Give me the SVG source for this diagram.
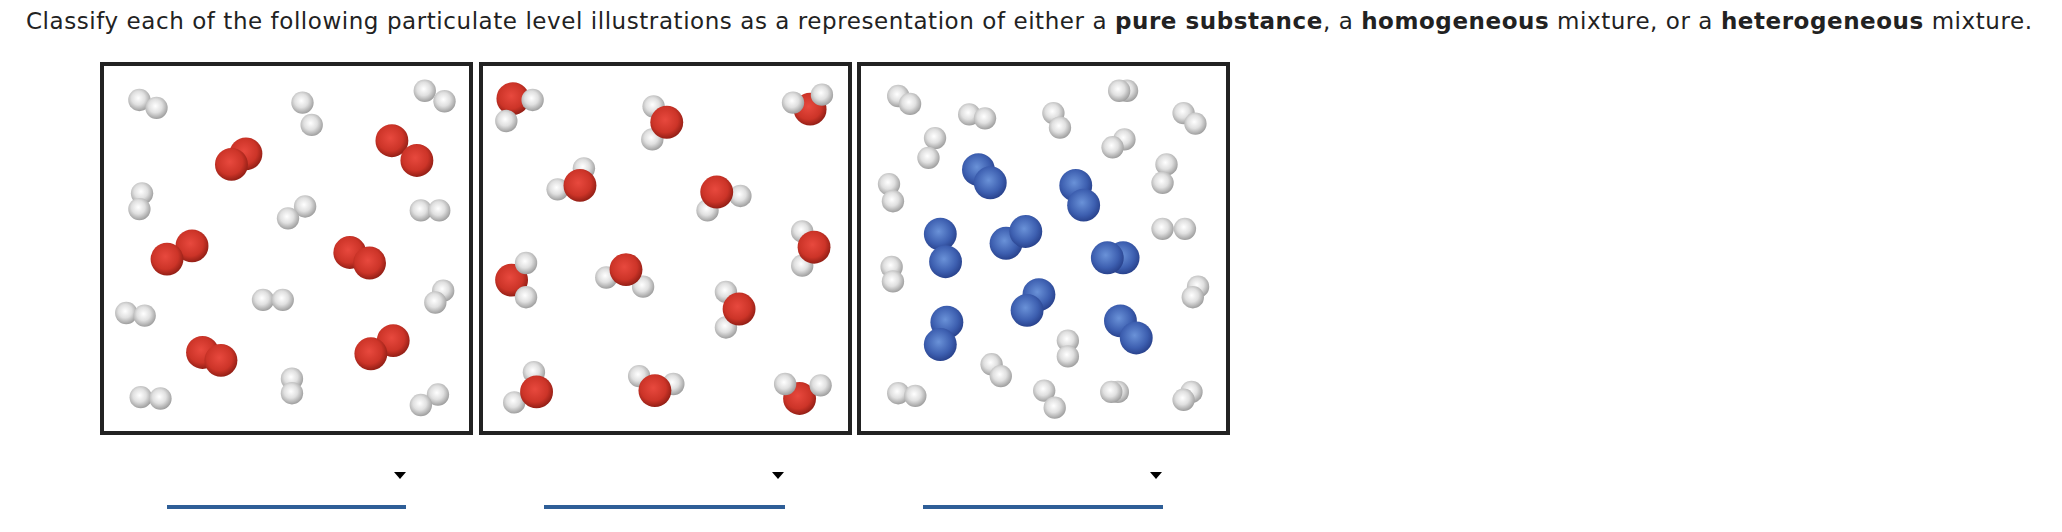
<svg xmlns="http://www.w3.org/2000/svg" width="2062" height="532" viewBox="0 0 2062 532">
<defs>
<radialGradient id="gw" cx="0.45" cy="0.42" r="0.6"><stop offset="0" stop-color="#ffffff"/><stop offset="0.5" stop-color="#e0e0e0"/><stop offset="1" stop-color="#9a9a9a"/></radialGradient>
<radialGradient id="gr" cx="0.45" cy="0.42" r="0.6"><stop offset="0" stop-color="#e8493e"/><stop offset="0.65" stop-color="#cc3428"/><stop offset="1" stop-color="#8e1d14"/></radialGradient>
<radialGradient id="gb" cx="0.45" cy="0.42" r="0.6"><stop offset="0" stop-color="#6a92d8"/><stop offset="0.65" stop-color="#3d5fb0"/><stop offset="1" stop-color="#27408a"/></radialGradient>
</defs>
<style>
.t{font-family:"DejaVu Sans",Verdana,sans-serif;font-size:23px;fill:#222}
.b{font-weight:bold}
.f{fill:#fff;stroke:#222;stroke-width:4}
.h{fill:url(#gw)}
.o{fill:url(#gr)}
.n{fill:url(#gb)}
.line{stroke:#2e5e97;stroke-width:4}
.tri{fill:#000}
</style>
<text class="t" x="26" y="29" textLength="2006" lengthAdjust="spacing">Classify each of the following particulate level illustrations as a representation of either a <tspan class="b">pure substance</tspan>, a <tspan class="b">homogeneous</tspan> mixture, or a <tspan class="b">heterogeneous</tspan> mixture.</text>
<g id="panel1"><rect class="f" x="102" y="64" width="369" height="369"/></g>
<g id="panel2"><rect class="f" x="481" y="64" width="369" height="369"/></g>
<g id="panel3"><rect class="f" x="859" y="64" width="369" height="369"/></g>
<g id="molecules" transform="scale(1.3151)">
<g id="p1">
<circle class="h" cx="106" cy="76" r="8.5"/><circle class="h" cx="119" cy="82" r="8.5"/>
<circle class="h" cx="230" cy="78" r="8.5"/><circle class="h" cx="237" cy="95" r="8.5"/>
<circle class="h" cx="323" cy="69" r="8.5"/><circle class="h" cx="338" cy="77" r="8.5"/>
<circle class="h" cx="108" cy="147" r="8.5"/><circle class="h" cx="106" cy="159" r="8.5"/>
<circle class="h" cx="232" cy="157" r="8.5"/><circle class="h" cx="219" cy="166" r="8.5"/>
<circle class="h" cx="320" cy="160" r="8.5"/><circle class="h" cx="334" cy="160" r="8.5"/>
<circle class="h" cx="96" cy="238" r="8.5"/><circle class="h" cx="110" cy="240" r="8.5"/>
<circle class="h" cx="200" cy="228" r="8.5"/><circle class="h" cx="215" cy="228" r="8.5"/>
<circle class="h" cx="337" cy="221" r="8.5"/><circle class="h" cx="331" cy="230" r="8.5"/>
<circle class="h" cx="107" cy="302" r="8.5"/><circle class="h" cx="122" cy="303" r="8.5"/>
<circle class="h" cx="222" cy="288" r="8.5"/><circle class="h" cx="222" cy="299" r="8.5"/>
<circle class="h" cx="333" cy="300" r="8.5"/><circle class="h" cx="320" cy="308" r="8.5"/>
<circle class="o" cx="187" cy="117" r="12.5"/><circle class="o" cx="176" cy="125" r="12.5"/>
<circle class="o" cx="298" cy="107" r="12.5"/><circle class="o" cx="317" cy="122" r="12.5"/>
<circle class="o" cx="146" cy="187" r="12.5"/><circle class="o" cx="127" cy="197" r="12.5"/>
<circle class="o" cx="266" cy="192" r="12.5"/><circle class="o" cx="281" cy="200" r="12.5"/>
<circle class="o" cx="154" cy="268" r="12.5"/><circle class="o" cx="168" cy="274" r="12.5"/>
<circle class="o" cx="299" cy="259" r="12.5"/><circle class="o" cx="282" cy="269" r="12.5"/>
</g>
<g id="p2">
<circle class="o" cx="390" cy="75" r="12.5"/><circle class="h" cx="405" cy="76" r="8.5"/><circle class="h" cx="385" cy="92" r="8.5"/>
<circle class="h" cx="497" cy="81" r="8.5"/><circle class="h" cx="496" cy="106" r="8.5"/><circle class="o" cx="507" cy="93" r="12.5"/>
<circle class="h" cx="444" cy="128" r="8.5"/><circle class="h" cx="424" cy="144" r="8.5"/><circle class="o" cx="441" cy="141" r="12.5"/>
<circle class="h" cx="563" cy="149" r="8.5"/><circle class="h" cx="538" cy="160" r="8.5"/><circle class="o" cx="545" cy="146" r="12.5"/>
<circle class="o" cx="616" cy="83" r="12.5"/><circle class="h" cx="603" cy="78" r="8.5"/><circle class="h" cx="625" cy="72" r="8.5"/>
<circle class="h" cx="610" cy="176" r="8.5"/><circle class="h" cx="610" cy="202" r="8.5"/><circle class="o" cx="619" cy="188" r="12.5"/>
<circle class="o" cx="389" cy="213" r="12.5"/><circle class="h" cx="400" cy="200" r="8.5"/><circle class="h" cx="400" cy="226" r="8.5"/>
<circle class="h" cx="461" cy="211" r="8.5"/><circle class="h" cx="489" cy="218" r="8.5"/><circle class="o" cx="476" cy="205" r="12.5"/>
<circle class="h" cx="552" cy="222" r="8.5"/><circle class="h" cx="552" cy="249" r="8.5"/><circle class="o" cx="562" cy="235" r="12.5"/>
<circle class="h" cx="406" cy="283" r="8.5"/><circle class="h" cx="391" cy="306" r="8.5"/><circle class="o" cx="408" cy="298" r="12.5"/>
<circle class="h" cx="486" cy="286" r="8.5"/><circle class="h" cx="512" cy="292" r="8.5"/><circle class="o" cx="498" cy="297" r="12.5"/>
<circle class="o" cx="608" cy="303" r="12.5"/><circle class="h" cx="597" cy="292" r="8.5"/><circle class="h" cx="624" cy="293" r="8.5"/>
</g>
<g id="p3">
<circle class="h" cx="683" cy="73" r="8.5"/><circle class="h" cx="692" cy="79" r="8.5"/>
<circle class="h" cx="737" cy="87" r="8.5"/><circle class="h" cx="749" cy="90" r="8.5"/>
<circle class="h" cx="801" cy="86" r="8.5"/><circle class="h" cx="806" cy="97" r="8.5"/>
<circle class="h" cx="857" cy="69" r="8.5"/><circle class="h" cx="851" cy="69" r="8.5"/>
<circle class="h" cx="900" cy="86" r="8.5"/><circle class="h" cx="909" cy="94" r="8.5"/>
<circle class="h" cx="711" cy="105" r="8.5"/><circle class="h" cx="706" cy="120" r="8.5"/>
<circle class="h" cx="855" cy="106" r="8.5"/><circle class="h" cx="846" cy="112" r="8.5"/>
<circle class="h" cx="676" cy="140" r="8.5"/><circle class="h" cx="679" cy="153" r="8.5"/>
<circle class="h" cx="887" cy="125" r="8.5"/><circle class="h" cx="884" cy="139" r="8.5"/>
<circle class="h" cx="884" cy="174" r="8.5"/><circle class="h" cx="901" cy="174" r="8.5"/>
<circle class="h" cx="678" cy="203" r="8.5"/><circle class="h" cx="679" cy="214" r="8.5"/>
<circle class="h" cx="911" cy="218" r="8.5"/><circle class="h" cx="907" cy="226" r="8.5"/>
<circle class="h" cx="812" cy="259" r="8.5"/><circle class="h" cx="812" cy="271" r="8.5"/>
<circle class="h" cx="754" cy="277" r="8.5"/><circle class="h" cx="761" cy="286" r="8.5"/>
<circle class="h" cx="683" cy="299" r="8.5"/><circle class="h" cx="696" cy="301" r="8.5"/>
<circle class="h" cx="794" cy="297" r="8.5"/><circle class="h" cx="802" cy="310" r="8.5"/>
<circle class="h" cx="850" cy="298" r="8.5"/><circle class="h" cx="845" cy="298" r="8.5"/>
<circle class="h" cx="906" cy="298" r="8.5"/><circle class="h" cx="900" cy="304" r="8.5"/>
<circle class="n" cx="744" cy="129" r="12.5"/><circle class="n" cx="753" cy="139" r="12.5"/>
<circle class="n" cx="818" cy="141" r="12.5"/><circle class="n" cx="824" cy="156" r="12.5"/>
<circle class="n" cx="715" cy="178" r="12.5"/><circle class="n" cx="719" cy="199" r="12.5"/>
<circle class="n" cx="765" cy="185" r="12.5"/><circle class="n" cx="780" cy="176" r="12.5"/>
<circle class="n" cx="854" cy="196" r="12.5"/><circle class="n" cx="842" cy="196" r="12.5"/>
<circle class="n" cx="790" cy="224" r="12.5"/><circle class="n" cx="781" cy="236" r="12.5"/>
<circle class="n" cx="720" cy="245" r="12.5"/><circle class="n" cx="715" cy="262" r="12.5"/>
<circle class="n" cx="852" cy="244" r="12.5"/><circle class="n" cx="864" cy="257" r="12.5"/>
</g>
</g>
<g id="dropdown1"><path class="tri" d="M394,472 h12 l-6,7 z"/><line class="line" x1="167" y1="507" x2="406" y2="507"/></g>
<g id="dropdown2"><path class="tri" d="M772,472 h12 l-6,7 z"/><line class="line" x1="544" y1="507" x2="785" y2="507"/></g>
<g id="dropdown3"><path class="tri" d="M1150,472 h12 l-6,7 z"/><line class="line" x1="923" y1="507" x2="1163" y2="507"/></g>
<g id="connectors"/>
</svg>
